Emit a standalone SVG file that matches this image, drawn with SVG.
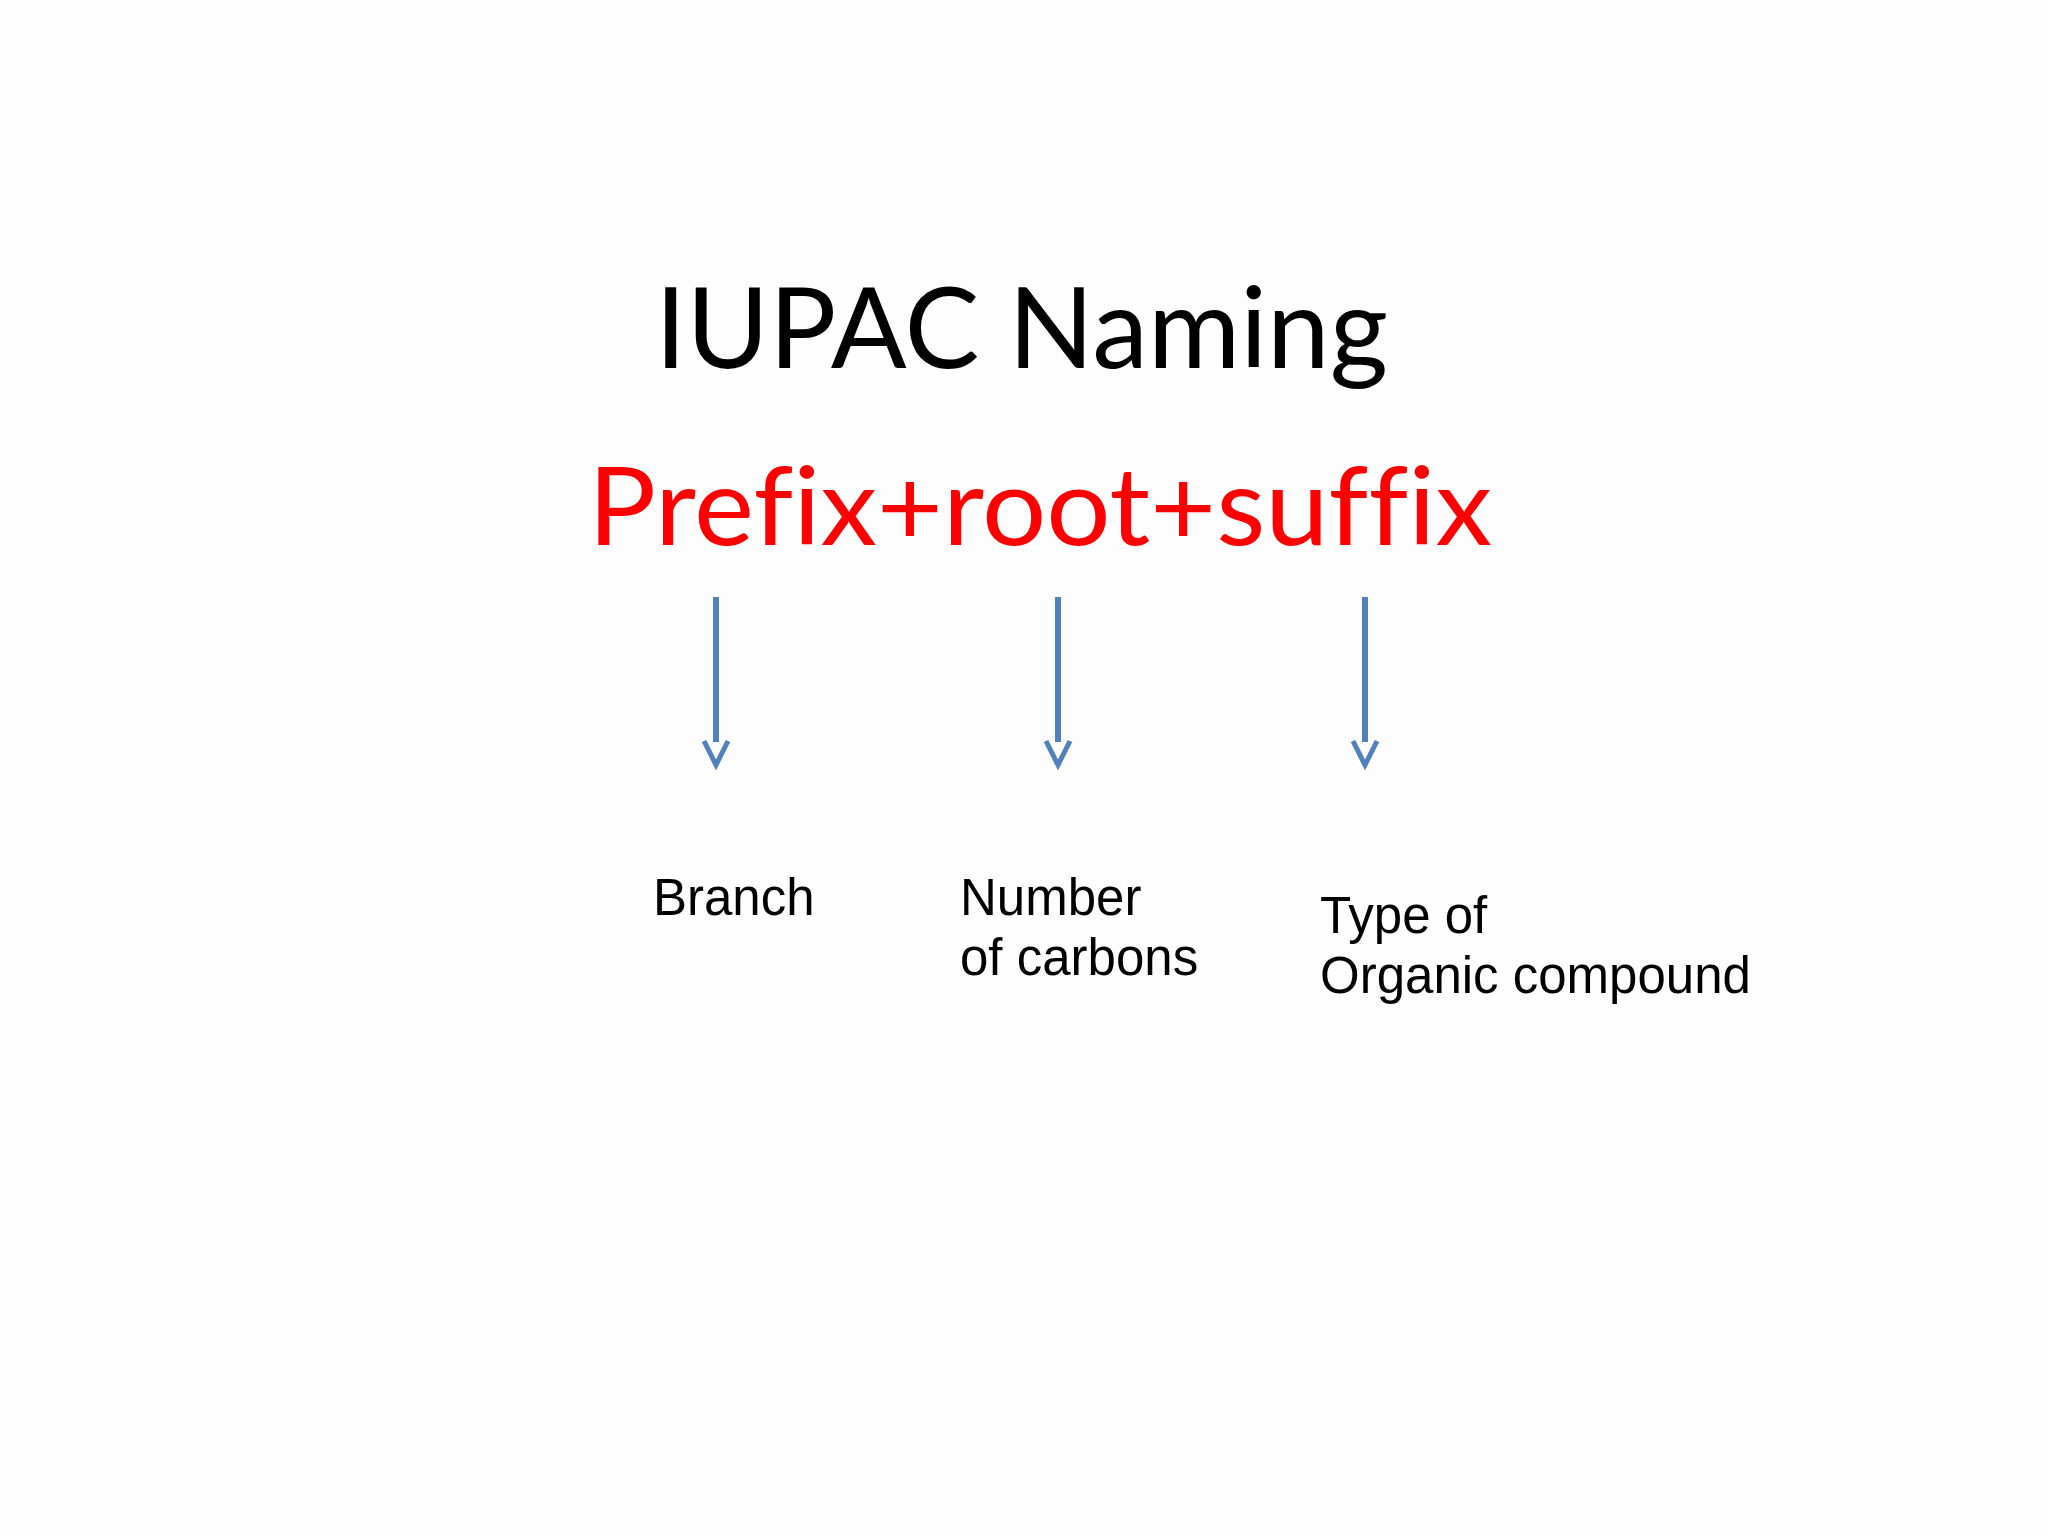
<svg xmlns="http://www.w3.org/2000/svg" width="2048" height="1536" viewBox="0 0 2048 1536">
  <defs>
    <style>
      .title { font-family: Lato, "Open Sans", sans-serif; font-size: 112px; fill: #000000; font-variant-ligatures: none; }
      .formula { font-family: Lato, "Open Sans", sans-serif; font-size: 108px; fill: #ff0000; font-variant-ligatures: none; }
      .label { font-family: "Liberation Sans", Arial, sans-serif; font-size: 51px; fill: #000000; }
      .shaft { stroke: #4f81bd; stroke-width: 6; fill: none; }
      .head { stroke: #4f81bd; stroke-width: 5; fill: none; stroke-linejoin: miter; }
    </style>
  </defs>
  <rect x="0" y="0" width="2048" height="1536" fill="#fdfdfd"/>

  <g id="title">
    <text class="title" x="655" y="368" textLength="733" lengthAdjust="spacingAndGlyphs">IUPAC Naming</text>
  </g>
  <g id="formula">
    <text class="formula" x="588" y="545" textLength="904" lengthAdjust="spacingAndGlyphs">Prefix+root+suffix</text>
  </g>

  <g id="connectors">
    <line class="shaft" x1="716" y1="597" x2="716" y2="742"/>
    <polyline class="head" points="704,741 716,765 728,741"/>
    <line class="shaft" x1="1058" y1="597" x2="1058" y2="742"/>
    <polyline class="head" points="1046,741 1058,765 1070,741"/>
    <line class="shaft" x1="1365" y1="597" x2="1365" y2="742"/>
    <polyline class="head" points="1353,741 1365,765 1377,741"/>
  </g>

  <g id="branch">
    <text class="label" x="653" y="915">Branch</text>
  </g>
  <g id="number-of-carbons">
    <text class="label" x="960" y="915">Number</text>
    <text class="label" x="960" y="975">of carbons</text>
  </g>
  <g id="type-of-organic-compound">
    <text class="label" x="1320" y="933">Type of</text>
    <text class="label" x="1320" y="993">Organic compound</text>
  </g>
</svg>
